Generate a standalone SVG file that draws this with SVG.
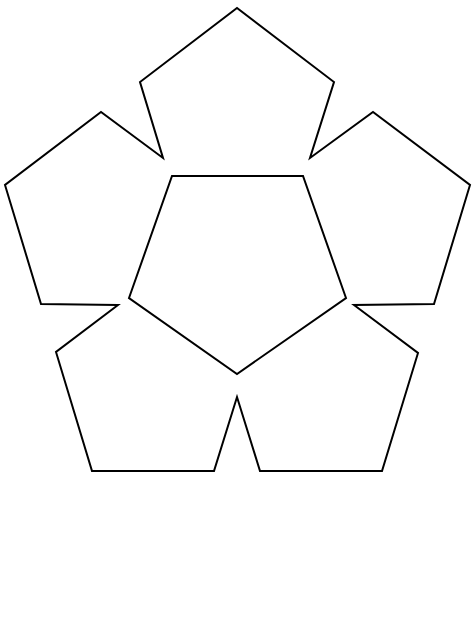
<svg xmlns="http://www.w3.org/2000/svg" width="474" height="631" viewBox="0 0 474 631">
<style>
.edge{fill:none;stroke:#000;stroke-width:2;stroke-linejoin:miter}
</style>
<rect width="474" height="631" fill="#fff"/>
<g id="outer-petals">
<polygon class="edge" points="118,305 41,304 5,185 101,112 163,158 140,82 237,8 334,82 310,158 373,112 470,185 434,304 354,305 418,353 382,471 260,471 237,397 214,471 92,471 56,352"/>
</g>
<g id="center-pentagon">
<polygon class="edge" points="172,176 303,176 346,298 237,374 129,298"/>
</g>
</svg>
